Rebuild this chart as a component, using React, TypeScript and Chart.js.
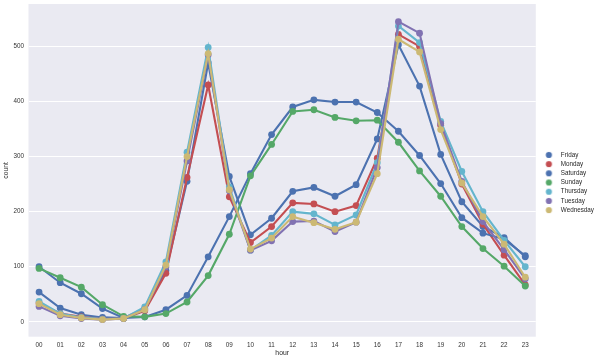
import { useEffect, useRef } from 'react';
import { Chart, registerables } from 'chart.js';

Chart.register(...registerables);

const hours = ['00', '01', '02', '03', '04', '05', '06', '07', '08', '09', '10', '11', '12', '13', '14', '15', '16', '17', '18', '19', '20', '21', '22', '23'];

const days = ['Friday', 'Monday', 'Saturday', 'Sunday', 'Thursday', 'Tuesday', 'Wednesday'];

const friday = [54, 25, 13, 8, 7, 24, 93, 255, 470, 264, 158, 188, 237, 244, 228, 249, 332, 503, 428, 304, 218, 173, 153, 118];
const monday = [34, 15, 9, 5, 6, 20, 88, 262, 430, 227, 144, 173, 216, 214, 200, 211, 297, 522, 500, 357, 250, 177, 121, 67];
const saturday = [100, 71, 51, 24, 7, 9, 22, 48, 118, 191, 269, 340, 390, 403, 399, 399, 380, 346, 302, 251, 189, 161, 150, 120];
const sunday = [97, 80, 63, 31, 10, 9, 15, 36, 84, 159, 265, 322, 382, 385, 371, 365, 366, 326, 274, 228, 173, 133, 101, 65];
const thursday = [37, 15, 8, 5, 6, 27, 109, 308, 498, 245, 130, 157, 200, 196, 176, 194, 289, 537, 507, 364, 273, 200, 148, 100];
const tuesday = [28, 11, 6, 4, 6, 22, 100, 292, 485, 238, 130, 147, 182, 183, 164, 181, 280, 545, 524, 360, 255, 182, 131, 78];
const wednesday = [33, 13, 7, 4, 6, 22, 103, 300, 487, 240, 132, 152, 191, 180, 168, 181, 269, 513, 490, 349, 252, 191, 141, 81];

const series = [friday, monday, saturday, sunday, thursday, tuesday, wednesday];
const colors = ['#4C72B0', '#C44E52', '#4C72B0', '#55A868', '#64B5CD', '#8172B2', '#CCB974'];

const yTicks = [0, 100, 200, 300, 400, 500];

const FONT = '"Liberation Sans", Arial, sans-serif';

const bgPlugin = {
  id: 'bgArea',
  beforeDraw(chart: any) {
    const { ctx, chartArea } = chart;
    if (!chartArea) return;
    ctx.save();
    ctx.fillStyle = '#EAEAF2';
    ctx.fillRect(chartArea.left, chartArea.top, chartArea.right - chartArea.left, chartArea.bottom - chartArea.top);
    ctx.restore();
  },
};

// legend marker image: dot placed toward the left of the marker slot
function makeDot(color: string): HTMLCanvasElement {
  const c = document.createElement('canvas');
  c.width = 16;
  c.height = 8;
  const g = c.getContext('2d');
  if (g) {
    g.fillStyle = color;
    g.beginPath();
    g.arc(4.65, 4, 3.1, 0, Math.PI * 2);
    g.fill();
  }
  return c;
}

export default function App() {
  const ref = useRef<HTMLCanvasElement | null>(null);

  useEffect(() => {
    if (!ref.current) return;
    const dots = colors.map((c) => makeDot(c));
    const defaultGen = (Chart.defaults as any).plugins.legend.labels.generateLabels;
    const chart = new Chart(ref.current, {
      type: 'line',
      data: {
        labels: hours,
        datasets: days.map((d, i) => ({
          label: d,
          data: series[i],
          borderColor: colors[i],
          backgroundColor: colors[i],
          pointBackgroundColor: colors[i],
          pointBorderColor: colors[i],
          pointBorderWidth: 0,
          pointRadius: 3.4,
          borderWidth: 2.1,
          tension: 0,
          fill: false,
          order: days.length - 1 - i,
        })),
      },
      options: {
        animation: false,
        responsive: true,
        maintainAspectRatio: false,
        layout: { padding: { top: 4, left: 0, right: -4, bottom: 0 } },
        plugins: {
          tooltip: { enabled: false },
          legend: {
            position: 'right',
            align: 'center',
            labels: {
              usePointStyle: true,
              pointStyleWidth: 11,
              boxWidth: 6.3,
              boxHeight: 4.3,
              padding: 2.9,
              color: '#262626',
              font: { family: FONT, size: 6.3 },
              sort: (a: any, b: any) => a.datasetIndex - b.datasetIndex,
              generateLabels: (ch: any) =>
                defaultGen(ch).map((item: any) => ({ ...item, pointStyle: dots[item.datasetIndex] })),
            },
          },
        },
        scales: {
          x: {
            type: 'category',
            offset: true,
            grid: { display: false, drawTicks: false },
            border: { display: false },
            ticks: { color: '#333', font: { family: FONT, size: 6.3 }, padding: 4.5, maxRotation: 0, autoSkip: false },
            title: { display: true, text: 'hour', color: '#262626', font: { family: FONT, size: 6.8 }, padding: { top: 0, bottom: 4 } },
            afterFit: (s: any) => {
              s.height = 24.3;
              s.paddingLeft = 0;
              s.paddingRight = 0;
            },
          },
          y: {
            type: 'linear',
            min: -27,
            max: 577,
            grid: { color: '#FFFFFF', lineWidth: 1, drawTicks: false },
            border: { display: false },
            afterBuildTicks: (s: any) => { s.ticks = yTicks.map((v) => ({ value: v })); },
            ticks: { color: '#333', font: { family: FONT, size: 6.3 }, padding: 4.5 },
            title: { display: true, text: 'count', color: '#262626', font: { family: FONT, size: 6.8 }, padding: { top: 2.5, bottom: 0 } },
            afterFit: (s: any) => {
              s.width = 28.5;
              s.paddingTop = 0;
              s.paddingBottom = 0;
            },
          },
          yPad: {
            type: 'linear',
            position: 'right',
            display: true,
            grid: { display: false, drawTicks: false },
            border: { display: false },
            ticks: { display: false },
            afterFit: (s: any) => {
              s.width = 8;
              s.paddingTop = 0;
              s.paddingBottom = 0;
            },
          },
        },
      },
      plugins: [bgPlugin],
    } as any);
    return () => chart.destroy();
  }, []);

  return (
    <div style={{ position: 'absolute', left: 0, top: 0, width: 600, height: 361 }}>
      <canvas ref={ref} />
    </div>
  );
}
